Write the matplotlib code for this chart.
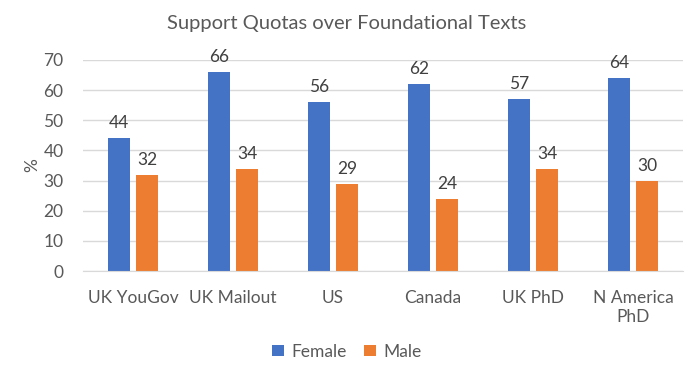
import matplotlib.pyplot as plt
import numpy as np

plt.rcParams['font.family'] = ['Lato', 'DejaVu Sans']

categories = ['UK YouGov', 'UK Mailout', 'US', 'Canada', 'UK PhD', 'N America\nPhD']
female = [44, 66, 56, 62, 57, 64]
male = [32, 34, 29, 24, 34, 30]

blue = '#4472C4'
orange = '#ED7D31'
text_col = '#595959'

fig = plt.figure(figsize=(6.94, 3.83), dpi=100)
ax = fig.add_axes([83 / 694, 112 / 383, 600 / 694, 211 / 383])

x = np.arange(len(categories))
w = 0.22
b1 = ax.bar(x - 0.03 - w / 2, female, w, color=blue, label='Female', zorder=2)
b2 = ax.bar(x + 0.03 + w / 2, male, w, color=orange, label='Male', zorder=2)

for bars in (b1, b2):
    for bar in bars:
        h = bar.get_height()
        ax.annotate(f'{h:g}', xy=(bar.get_x() + bar.get_width() / 2, h),
                    xytext=(0, 5), textcoords='offset points',
                    ha='center', va='bottom', fontsize=12.5, color='#404040')

ax.set_xlim(-0.5, len(categories) - 0.5)
ax.set_ylim(0, 70)
ax.set_yticks(range(0, 71, 10))
ax.set_xticks(x)
ax.set_xticklabels(categories)
ax.yaxis.grid(True, color='#D9D9D9', linewidth=1, zorder=0)
ax.tick_params(axis='both', length=0, labelsize=12.5, labelcolor=text_col)
ax.tick_params(axis='x', pad=14)
ax.tick_params(axis='y', pad=14)
for s in ['top', 'right', 'left']:
    ax.spines[s].set_visible(False)
ax.spines['bottom'].set_color('#D9D9D9')

ax.set_ylabel('%', fontsize=12.5, color=text_col, labelpad=2)
fig.suptitle('Support Quotas over Foundational Texts', fontsize=14.5,
             color=text_col, y=0.96)

fig.legend(loc='lower center', bbox_to_anchor=(0.5, 0.02), ncol=2,
           frameon=False, fontsize=12.5, labelcolor=text_col,
           handlelength=0.65, handleheight=0.65, handletextpad=0.45,
           columnspacing=1.0)

fig.savefig('out.png', dpi=100)
